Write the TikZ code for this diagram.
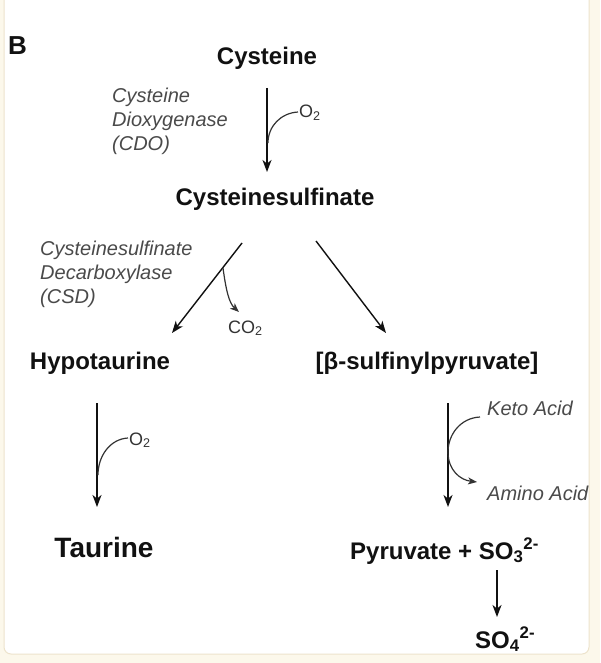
\documentclass[tikz,border=0pt]{standalone}
\usepackage{fontspec}
\setmainfont{Liberation Sans}
\usetikzlibrary{arrows.meta}
\definecolor{cream}{HTML}{FCF8EB}
\definecolor{frameln}{HTML}{EDE3CC}
\definecolor{ink}{HTML}{111111}
\definecolor{enz}{HTML}{4A4A4A}
\definecolor{side}{HTML}{333333}
\begin{document}
\begin{tikzpicture}[x=1pt,y=-1pt,
  mainlbl/.style={font=\fontsize{24}{28}\selectfont\bfseries, text=ink, inner sep=0pt},
  biglbl/.style={font=\fontsize{28}{32}\selectfont\bfseries, text=ink, inner sep=0pt},
  enzlbl/.style={font=\fontsize{20}{24}\selectfont\itshape, text=enz, inner sep=0pt, anchor=base west},
  sidelbl/.style={font=\fontsize{18}{21}\selectfont, text=side, inner sep=0pt, anchor=base west},
  rxn/.style={line width=1.4pt, draw=ink, -{Stealth[length=12pt,width=9pt,inset=3.5pt]}},
  sidecurve/.style={line width=1.2pt, draw=side},
  sidecurvearr/.style={line width=1.2pt, draw=side, -{Stealth[length=9pt,width=7pt,inset=2.5pt]}}]
\useasboundingbox (0,0) rectangle (600,663);
\fill[cream] (0,0) rectangle (600,663);
\draw[frameln, line width=1pt, fill=white, rounded corners=7pt] (4,-12) rectangle (589,654);

\node[font=\fontsize{26}{30}\selectfont\bfseries, text=ink, inner sep=0pt, anchor=base west] (B) at (8,55) {B};

% main compounds
\node[mainlbl, anchor=base] (cys) at (267,65) {Cysteine};
\node[mainlbl, anchor=base] (csa) at (275,205) {Cysteinesulfinate};
\node[mainlbl, anchor=base] (hypo) at (100,369) {Hypotaurine};
\node[mainlbl, anchor=base] (bsp) at (427,369) {[β-sulfinylpyruvate]};
\node[biglbl, anchor=base] (tau) at (104,557) {Taurine};
\node[mainlbl, anchor=base west] (pyr) at (350,559) {Pyruvate + SO\textsubscript{3}\textsuperscript{2-}};
\node[mainlbl, anchor=base west] (so4) at (475,648) {SO\textsubscript{4}\textsuperscript{2-}};

% enzyme labels
\node[enzlbl] (cdo1) at (112,103) {Cysteine};
\node[enzlbl] (cdo2) at (112,127) {Dioxygenase};
\node[enzlbl] (cdo3) at (112,151) {(CDO)};
\node[enzlbl] (csd1) at (40,255) {Cysteinesulfinate};
\node[enzlbl] (csd2) at (40,279) {Decarboxylase};
\node[enzlbl] (csd3) at (40,303) {(CSD)};
\node[enzlbl] (keto) at (487,415) {Keto Acid};
\node[enzlbl] (amino) at (487,500) {Amino Acid};

% side species
\node[sidelbl] (o2a) at (299,118) {O\textsubscript{2}};
\node[sidelbl] (co2) at (228,333) {CO\textsubscript{2}};
\node[sidelbl] (o2b) at (129,445) {O\textsubscript{2}};

% connector end points
\coordinate (a1s) at (267,88);  \coordinate (a1e) at (267,172);
\coordinate (a2s) at (242,243); \coordinate (a2e) at (172,333);
\coordinate (a3s) at (316,241); \coordinate (a3e) at (386,333);
\coordinate (a4s) at (97,403);  \coordinate (a4e) at (97,507);
\coordinate (a5s) at (448,403); \coordinate (a5e) at (448,507);
\coordinate (a6s) at (497,570); \coordinate (a6e) at (497,617);

\draw[rxn] (a1s) -- (a1e);
\draw[rxn] (a2s) -- (a2e);
\draw[rxn] (a3s) -- (a3e);
\draw[rxn] (a4s) -- (a4e);
\draw[rxn] (a5s) -- (a5e);
\draw[rxn] (a6s) -- (a6e);

% side curves
\coordinate (c1a) at (298,112); \coordinate (c1b) at (268,143);
\draw[sidecurve] (c1a) .. controls (281,113) and (268,126) .. (c1b);
\coordinate (c2a) at (223,268); \coordinate (c2b) at (239,312);
\draw[sidecurvearr] (c2a) .. controls (226,290) and (229,303) .. (c2b);
\coordinate (c3a) at (128,438); \coordinate (c3b) at (98,475);
\draw[sidecurve] (c3a) .. controls (110,439) and (98,456) .. (c3b);
\coordinate (c4a) at (480,417); \coordinate (c4m) at (448,452); \coordinate (c4b) at (477,482);
\draw[sidecurvearr] (c4a) .. controls (460,418) and (448,435) .. (c4m) .. controls (448,470) and (460,480) .. (c4b);
\end{tikzpicture}
\end{document}
